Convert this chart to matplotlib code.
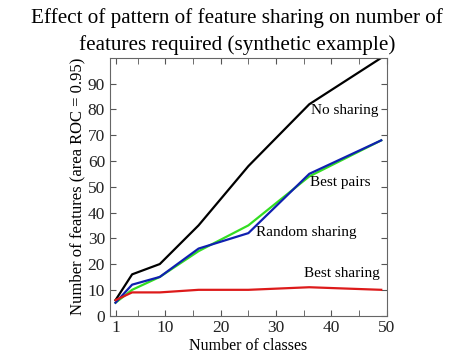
import matplotlib
matplotlib.use("Agg")
import matplotlib.pyplot as plt

# data
n_classes    = [1, 4, 9, 16, 25, 36, 49]
no_sharing   = [6, 16, 20, 35, 58, 82, 100]
best_pairs   = [5, 10, 15, 25, 35, 54, 68]
random_share = [5, 12, 15, 26, 32, 55, 68]
best_sharing = [6, 9, 9, 10, 10, 11, 10]

labels = ["No sharing", "Best pairs", "Random sharing", "Best sharing"]
label_xy = [(36.4, 79.5), (36.1, 51.5), (26.4, 32.4), (35.1, 16.5)]

plt.rcParams["font.family"] = ["Liberation Serif", "DejaVu Serif"]

fig = plt.figure(figsize=(4.74, 3.55), dpi=100)
ax = fig.add_axes([0.232, 0.111, 0.584, 0.726])

ax.plot(n_classes, no_sharing,   color="black",   lw=1.6)
ax.plot(n_classes, best_pairs,   color="#33dd22", lw=1.6)
ax.plot(n_classes, random_share, color="#1020b0", lw=1.6)
ax.plot(n_classes, best_sharing, color="#dd1a1a", lw=1.6)

for txt, (x, y) in zip(labels, label_xy):
    ax.text(x, y, txt, fontsize=11, ha="left", va="center")

ax.set_xlim(0, 50)
ax.set_ylim(0, 100)
ax.set_xticks([1, 10, 20, 30, 40, 50])
ax.set_xticks([5, 15, 25, 35, 45], minor=True)
ax.set_yticks(range(0, 100, 10))
ax.tick_params(which="both", direction="in", top=True, right=True,
               labelsize=12.5, color="#555555", labelcolor="#222222")
ax.tick_params(which="major", length=4)
ax.tick_params(which="minor", length=4)
for s in ax.spines.values():
    s.set_color("#666666")
    s.set_linewidth(0.8)

ax.set_xlabel("Number of classes", fontsize=11.5, labelpad=1)
ax.set_ylabel("Number of features (area ROC = 0.95)", fontsize=12, labelpad=2)

fig.text(0.5, 0.95, "Effect of pattern of feature sharing on number of",
         ha="center", va="center", fontsize=15.2)
fig.text(0.5, 0.873, "features required (synthetic example)",
         ha="center", va="center", fontsize=15.2)

fig.savefig("out.png", dpi=100)
